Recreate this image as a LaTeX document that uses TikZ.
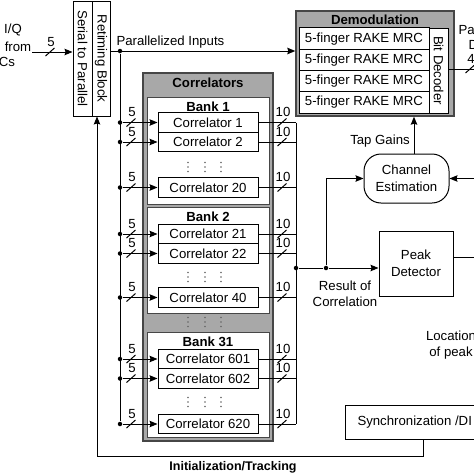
\documentclass[tikz,border=0pt]{standalone}
\usepackage{fontspec}
\setmainfont{Liberation Sans}
\usetikzlibrary{arrows.meta}
\tikzset{>={Stealth[length=8pt,width=6.5pt,inset=1pt]}}
\definecolor{hdrgray}{RGB}{168,168,168}
\definecolor{framegray}{RGB}{70,70,70}
\tikzset{
  blk/.style={draw, fill=white, inner sep=0pt, line width=1pt},
  corr/.style={blk, minimum width=100pt, minimum height=19.5pt},
  rake/.style={blk, minimum width=130pt, minimum height=21.25pt},
  frame/.style={draw=framegray, fill=hdrgray, line width=1.4pt, inner sep=0pt},
  bank/.style={draw=framegray, fill=white, line width=1pt, inner sep=0pt, minimum width=122pt},
  ttl/.style={font=\fontsize{13.2}{16.5}\selectfont\bfseries},
  dot/.style={circle, fill, inner sep=0pt, minimum size=4.5pt},
}
\newcommand{\buswidth}[2]{\draw (#1) ++(-4.5,4) -- ++(9,-8) node[midway, above=5pt, inner sep=0pt, xshift=1pt] {#2};}

\begin{document}
\begin{tikzpicture}[x=1pt, y=-1pt, line width=1pt, font=\fontsize{13.2}{16.5}\selectfont]
    \useasboundingbox (0,0) rectangle (474,474);
    \clip (0,0) rectangle (474,474);

    % input and front end
    \node at (13,30) {I/Q};
    \node at (18,47) {from};
    \node at (7,62) {Cs};
    \node[blk, minimum width=19pt, minimum height=115pt] (s2p) at (82.5,58.5) {\rotatebox{-90}{Serial to Parallel}};
    \node[blk, minimum width=18pt, minimum height=115pt] (retime) at (101,58.5) {\rotatebox{-90}{Retiming Block}};
    \coordinate (iqin) at (32,52);
    \draw [->] (iqin) -- (iqin -| s2p.west);
    \buswidth{50,52}{5}

    % demodulation
    \node[frame, minimum width=158pt, minimum height=105pt] (demod) at (375,63.5) {};
    \node[ttl] at (375,20) {Demodulation};
    \node[bank, minimum width=149pt, minimum height=85pt] (dembody) at (373.5,70.5) {};
    \foreach \i/\y in {1/38.6, 2/59.9, 3/81.1, 4/102.4}
        \node[rake] (rake\i) at (364,\y) {5-finger RAKE MRC};
    \node[blk, minimum width=19pt, minimum height=85pt] (bitdec) at (438.5,70.5) {\rotatebox{-90}{Bit Decoder}};
    \coordinate (dout) at (474,69);
    \draw (bitdec.east |- dout) -- (dout);
    \buswidth{470,69}{4}
    \node[anchor=west, inner sep=0pt] at (458,30) {Pa};
    \node[anchor=west, inner sep=0pt] at (468,45) {D};

    % parallelized inputs
    \node[dot] (pin) at (120,51) {};
    \draw [->] (pin -| retime.east) -- (pin -| demod.west);
    \node[anchor=base west, inner sep=0pt] at (116,45) {Parallelized Inputs};

    % correlators
    \node[frame, minimum width=130pt, minimum height=368pt] (corrs) at (208,257) {};
    \node[ttl] at (208,83) {Correlators};
    \node[bank, minimum height=107pt] (bank1) at (208,150.5) {};
    \node[bank, minimum height=106pt] (bank2) at (208,260) {};
    \node[bank, minimum height=105pt] (bank31) at (208,384.5) {};
    \node[ttl] at (208,106.5) {Bank 1};
    \node[ttl] at (208,217) {Bank 2};
    \node[ttl] at (208,342) {Bank 31};
    \foreach \y in {167,277,322,402}
        \foreach \x in {188,205,221}
            \foreach \d in {-4.5,0,4.5}
                \fill [black!60] (\x,\y+\d) circle (0.8pt);
    \foreach \n/\y in {1/122.5, 2/142, 20/187.5, 21/234, 22/253.5, 40/297.5, 601/359, 602/378.5, 620/424} {
        \node[corr] (c\n) at (208,\y) {Correlator \n};
        \node[dot] (i\n) at (120,\y) {};
        \coordinate (o\n) at (296,\y);
        \draw [->] (i\n) -- (c\n);
        \draw (c\n) -- (o\n);
        \buswidth{131,\y}{5}
        \buswidth{282,\y}{10}
    }
    \draw (pin) -- (i620);
    \draw (o1) -- (o620);

    % peak detection and channel estimation
    \node[dot] (rj) at (296,268) {};
    \node[dot] (rk) at (326,268) {};
    \node[blk, minimum width=74pt, minimum height=65pt, align=center] (peak) at (416,263.5) {Peak\\Detector};
    \node[blk, rounded corners=17pt, minimum width=85pt, minimum height=49pt, align=center] (chest) at (406.5,178.5) {Channel\\Estimation};
    \draw [->] (rj) -- (rk) -- (rk -| peak.west);
    \draw [->] (rk) |- (chest.west);
    \coordinate (cein) at (474,178.5);
    \draw [->] (cein) -- (chest.east);
    \coordinate (pkout) at (474,257);
    \draw (pkout -| peak.east) -- (pkout);
    \coordinate (tapx) at (414,0);
    \draw [->] (chest.north -| tapx) -- (demod.south -| tapx);
    \node at (380,141) {Tap Gains};
    \node[align=center] at (345,294) {Result of\\Correlation};
    \node[align=center] at (451,345) {Location\\of peak};

    % synchronization loop
    \node[blk, anchor=west, minimum height=34pt, inner xsep=12pt] (sync) at (345,422) {Synchronization /DI};
    \coordinate (lp) at (423,456);
    \coordinate (lq) at (97,456);
    \draw [->] (sync.south -| lp) -- (lp) -- (lq) -- (lq |- retime.south);
    \node[font=\fontsize{12.5}{15}\selectfont\bfseries] at (233,467) {Initialization/Tracking};
\end{tikzpicture}
\end{document}
